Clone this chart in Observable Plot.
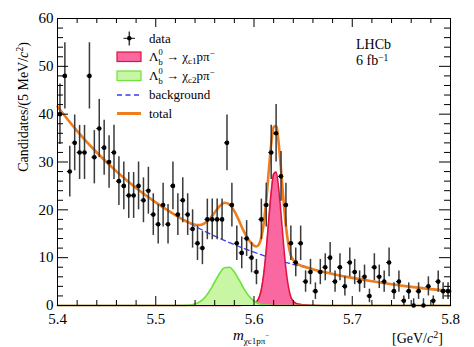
<!DOCTYPE html>
<html><head><meta charset="utf-8">
<script src="https://cdn.jsdelivr.net/npm/d3@7"></script>
<script src="https://cdn.jsdelivr.net/npm/@observablehq/plot@0.6"></script>
<style>body{margin:0;background:#fff;} svg{display:block}</style>
</head><body><div id="chart"></div>
<script>
// bin centres [GeV/c^2] and candidates per 5 MeV/c^2
const massBins = [5.4025,5.4075,5.4125,5.4175,5.4225,5.4275,5.4325,5.4375,5.4425,5.4475,
  5.4525,5.4575,5.4625,5.4675,5.4725,5.4775,5.4825,5.4875,5.4925,5.4975,
  5.5025,5.5075,5.5125,5.5175,5.5225,5.5275,5.5325,5.5375,5.5425,5.5475,
  5.5525,5.5575,5.5625,5.5675,5.5725,5.5775,5.5825,5.5875,5.5925,5.5975,
  5.6025,5.6075,5.6125,5.6175,5.6225,5.6275,5.6325,5.6375,5.6425,5.6475,
  5.6525,5.6575,5.6625,5.6675,5.6725,5.6775,5.6825,5.6875,5.6925,5.6975,
  5.7025,5.7075,5.7125,5.7175,5.7225,5.7275,5.7325,5.7375,5.7425,5.7475,
  5.7525,5.7575,5.7625,5.7675,5.7725,5.7775,5.7825,5.7875,5.7925,5.7975];
const counts = [40,48,28,34,32,32,48,31,37,33,
  30,32,26,25,23,23,25,22,24,19,
  17,21,17,25,19,22,19,16,13,12,
  18,18,18,18,34,21,13,11,14,10,
  7,18,21,32,36,27,21,13,9,13,
  5,7,3,7,8,10,5,8,4,9,
  7,5,6,2,8,6,5,9,3,5,
  1,3,0,3,0,4,1,5,3,3];

// fit components
const bkgMass = [5.400,5.425,5.450,5.475,5.500,5.525,5.550,5.575,5.600,5.625,5.650,5.675,5.700,5.725,5.750,5.775,5.800];
const bkgVal  = [41.6,35.3,29.9,25.4,21.55,18.3,15.5,13.15,11.15,9.45,8.05,6.8,5.8,4.9,4.15,3.55,3.0];

const chi1Mass = [5.40,5.58,5.59,5.595,5.5975,5.60,5.6025,5.605,5.6075,5.61,5.6125,5.615,5.6175,5.62,5.6225,5.625,5.6275,5.63,5.6325,5.635,5.6375,5.64,5.6425,5.645,5.65,5.66,5.68,5.80];
const chi1Val  = [0,0,0.05,0.15,0.25,0.4,0.75,1.6,3.38,6.74,11.7,17.9,23.7,27.5,27.9,24.7,19.1,12.9,7.6,3.93,1.77,0.9,0.5,0.3,0.15,0.05,0,0];

const chi2Mass = [5.40,5.52,5.525,5.53,5.535,5.54,5.545,5.55,5.555,5.56,5.565,5.57,5.575,5.58,5.585,5.59,5.595,5.60,5.605,5.61,5.615,5.62,5.625,5.80];
const chi2Val  = [0,0,0.01,0.03,0.11,0.32,0.80,1.69,3.10,4.91,6.70,7.89,8.0,7.0,5.29,3.44,1.94,0.94,0.39,0.14,0.04,0.01,0,0];

const totalMass = [5.40,5.42,5.44,5.46,5.48,5.50,5.52,5.525,5.53,5.535,5.54,5.545,5.55,5.555,5.56,5.565,5.57,5.575,5.58,5.585,5.59,5.595,
  5.5975,5.60,5.6025,5.605,5.6075,5.61,5.6125,5.615,5.6175,5.62,5.6225,5.625,5.6275,5.63,5.6325,5.635,5.6375,5.64,5.6425,5.645,
  5.65,5.66,5.68,5.70,5.72,5.74,5.76,5.78,5.80];
const totalVal = [41.6,36.47,31.98,28.04,24.58,21.55,18.89,18.29,17.72,17.23,16.89,16.83,17.20,18.11,19.43,20.75,21.49,21.16,19.73,17.61,15.36,13.63,
  12.97,12.50,12.35,12.79,14.24,17.33,22.06,28.06,33.67,37.30,37.53,34.17,28.42,22.07,16.62,12.80,10.49,9.48,8.94,8.60,
  8.19,7.57,6.60,5.78,5.07,4.44,3.90,3.42,3.00];

const xMajorTicks = [5.4,5.5,5.6,5.7,5.8];
const xMinorTicks = [5.42,5.44,5.46,5.48,5.52,5.54,5.56,5.58,5.62,5.64,5.66,5.68,5.72,5.74,5.76,5.78];
const yMajorTicks = [0,10,20,30,40,50,60];
const yMinorTicks = [2,4,6,8,12,14,16,18,22,24,26,28,32,34,36,38,42,44,46,48,52,54,56,58];
const halfBin = 0.0025;

const W = 474, H = 347, mL = 57, mR = 24, mT = 18, mB = 42;
const fW = W - mL - mR, fH = H - mT - mB;

const data = massBins.map((m, i) => ({m, n: counts[i], lo: counts[i] - Math.sqrt(counts[i]), hi: counts[i] + (counts[i] > 0 ? Math.sqrt(counts[i]) : 1.4)}));
const bkg = bkgMass.map((m, i) => ({m, v: bkgVal[i]}));
const chi1 = chi1Mass.map((m, i) => ({m, v: chi1Val[i]}));
const chi2 = chi2Mass.map((m, i) => ({m, v: chi2Val[i]}));
const total = totalMass.map((m, i) => ({m, v: totalVal[i]}));

const pinkFill = "#fa68a2", redLine = "#e2123f", greenFill = "#c8f6a4", greenLine = "#6ce23a";
const blueDash = "#3b3bea", orange = "#ef7d1c";

const plot = Plot.plot({
  width: W, height: H,
  marginLeft: mL, marginRight: mR, marginTop: mT, marginBottom: mB,
  style: {fontFamily: "'Liberation Serif', 'DejaVu Serif', serif", fontSize: "15px", background: "white", color: "black"},
  x: {domain: [5.4, 5.8], ticks: xMajorTicks, tickSize: 0, tickPadding: 8, tickFormat: d3.format(".1f"), label: null},
  y: {domain: [0, 60], ticks: yMajorTicks, tickSize: 0, tickPadding: 4, label: null},
  marks: [
    Plot.line(bkg, {x: "m", y: "v", stroke: blueDash, strokeWidth: 1.3, strokeDasharray: "5,3.5", curve: "monotone-x"}),
    Plot.areaY(chi1, {x: "m", y: "v", fill: pinkFill, curve: "monotone-x"}),
    Plot.line(chi1, {x: "m", y: "v", stroke: redLine, strokeWidth: 1.6, curve: "monotone-x"}),
    Plot.areaY(chi2, {x: "m", y: "v", fill: greenFill, curve: "monotone-x"}),
    Plot.line(chi2, {x: "m", y: "v", stroke: greenLine, strokeWidth: 1.6, curve: "monotone-x"}),
    Plot.line(total, {x: "m", y: "v", stroke: orange, strokeWidth: 2.6, curve: "monotone-x"}),
    Plot.ruleX(data, {x: "m", y1: "lo", y2: "hi", stroke: "#3a3a3a", strokeWidth: 1.5}),
    Plot.ruleY(data, {y: "n", x1: d => d.m - halfBin, x2: d => d.m + halfBin, stroke: "#111", strokeWidth: 1}),
    Plot.dot(data, {x: "m", y: "n", r: 2.3, fill: "#000", stroke: "none"}),
    // inward ticks on all four sides
    Plot.tickY(yMajorTicks, {y: d => d, insetRight: fW - 11, stroke: "#000"}),
    Plot.tickY(yMinorTicks, {y: d => d, insetRight: fW - 6, stroke: "#000"}),
    Plot.tickY(yMajorTicks, {y: d => d, insetLeft: fW - 11, stroke: "#000"}),
    Plot.tickY(yMinorTicks, {y: d => d, insetLeft: fW - 6, stroke: "#000"}),
    Plot.tickX(xMajorTicks, {x: d => d, insetTop: fH - 9, stroke: "#000"}),
    Plot.tickX(xMinorTicks, {x: d => d, insetTop: fH - 5, stroke: "#000"}),
    Plot.tickX(xMajorTicks, {x: d => d, insetBottom: fH - 9, stroke: "#000"}),
    Plot.tickX(xMinorTicks, {x: d => d, insetBottom: fH - 5, stroke: "#000"}),
    Plot.frame({stroke: "#000", strokeWidth: 1})
  ]
});
document.getElementById("chart").appendChild(plot);

const svg = d3.select(plot);
const serif = "'Liberation Serif', 'DejaVu Serif', serif";
const ann = svg.append("g").attr("text-anchor", "start").attr("font-family", serif).attr("fill", "#000");

// y-axis title
const yt = ann.append("text").attr("transform", "translate(27.5,42) rotate(-90)")
  .attr("text-anchor", "end").attr("font-size", 14);
yt.append("tspan").text("Candidates/(5 MeV/");
yt.append("tspan").attr("font-style", "italic").text("c");
yt.append("tspan").attr("font-size", 10).attr("dy", -5).text("2");
yt.append("tspan").attr("dy", 5).text(")");

// x-axis title
const xt = ann.append("text").attr("x", 233).attr("y", 340).attr("font-size", 15);
xt.append("tspan").attr("font-style", "italic").text("m");
xt.append("tspan").attr("font-size", 9).attr("dy", 3.5).text("χc1pπ");
xt.append("tspan").attr("font-size", 7).attr("dy", -6).text("−");
const xu = ann.append("text").attr("x", 392).attr("y", 342.5).attr("font-size", 14);
xu.append("tspan").text("[GeV/");
xu.append("tspan").attr("font-style", "italic").text("c");
xu.append("tspan").attr("font-size", 10).attr("dy", -5).text("2");
xu.append("tspan").attr("dy", 5).text("]");

// LHCb label
ann.append("text").attr("x", 356).attr("y", 48.5).attr("font-size", 14).text("LHCb");
const lum = ann.append("text").attr("x", 356).attr("y", 65).attr("font-size", 14);
lum.append("tspan").text("6 fb");
lum.append("tspan").attr("font-size", 9.5).attr("dy", -4.5).text("−1");

// legend
const lg = ann.append("g").attr("font-size", 13);
const tx = 149;
// data
lg.append("line").attr("x1", 129.3).attr("x2", 129.3).attr("y1", 31.5).attr("y2", 45.5).attr("stroke", "#3a3a3a").attr("stroke-width", 1.5);
lg.append("line").attr("x1", 123.5).attr("x2", 135).attr("y1", 38.3).attr("y2", 38.3).attr("stroke", "#111").attr("stroke-width", 1);
lg.append("circle").attr("cx", 129.3).attr("cy", 38.3).attr("r", 2.3).attr("fill", "#000");
lg.append("text").attr("x", tx).attr("y", 42.5).text("data");
// chi_c1
lg.append("rect").attr("x", 117).attr("y", 52).attr("width", 24).attr("height", 9.5).attr("fill", pinkFill).attr("stroke", redLine).attr("stroke-width", 1.2);
function decayLabel(y, sub) {
  const t = lg.append("text").attr("x", tx).attr("y", y);
  t.append("tspan").text("Λ");
  t.append("tspan").attr("font-size", 8.5).attr("dy", -6).text("0");
  t.append("tspan").attr("font-size", 8.5).attr("dx", -4.3).attr("dy", 10).text("b");
  t.append("tspan").attr("dy", -4).text(" → χ");
  t.append("tspan").attr("font-size", 9).attr("dy", 3).text(sub);
  t.append("tspan").attr("dy", -3).text("pπ");
  t.append("tspan").attr("font-size", 9).attr("dy", -5).text("−");
}
decayLabel(61, "c1");
lg.append("rect").attr("x", 117).attr("y", 71).attr("width", 24).attr("height", 9.5).attr("fill", greenFill).attr("stroke", greenLine).attr("stroke-width", 1.2);
decayLabel(80, "c2");
lg.append("line").attr("x1", 117).attr("x2", 141).attr("y1", 95).attr("y2", 95).attr("stroke", blueDash).attr("stroke-width", 1.3).attr("stroke-dasharray", "5,3.5");
lg.append("text").attr("x", tx).attr("y", 99).text("background");
lg.append("line").attr("x1", 117).attr("x2", 141).attr("y1", 113.5).attr("y2", 113.5).attr("stroke", orange).attr("stroke-width", 3);
lg.append("text").attr("x", tx).attr("y", 118).text("total");
</script>
</body></html>
